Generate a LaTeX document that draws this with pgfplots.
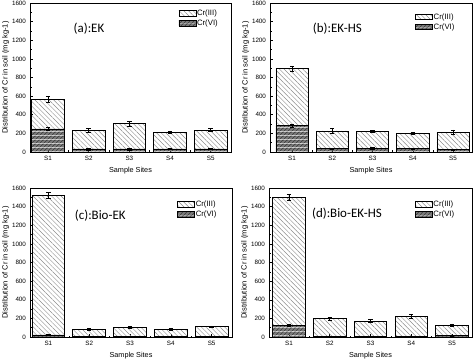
\documentclass[border=0pt]{standalone}
\usepackage{pgfplots}
\pgfplotsset{compat=1.18}
\usepackage{fontspec}
\setmainfont{Liberation Sans}
\newfontfamily\carlito{Carlito}
\usetikzlibrary{patterns.meta}

\pgfdeclarepatterninherentlycolored{darkhatch}{\pgfpoint{0bp}{0bp}}{\pgfpoint{4bp}{4bp}}{\pgfpoint{4bp}{4bp}}{%
  \pgfsetfillcolor{black!52}%
  \pgfpathrectangle{\pgfpoint{0bp}{0bp}}{\pgfpoint{4bp}{4bp}}\pgfusepath{fill}%
  \pgfsetlinewidth{0.6bp}\pgfsetstrokecolor{black!78}%
  \pgfpathmoveto{\pgfpoint{-0.5bp}{-0.5bp}}\pgfpathlineto{\pgfpoint{4.5bp}{4.5bp}}\pgfusepath{stroke}%
}

\pgfplotstableread{
x cr6 e6 cr3 e3
1 248 15 317 30
2 33 10 203 20
3 33 12 270 25
4 33 8 178 12
5 33 8 203 18
}\dataA
\pgfplotstableread{
x cr6 e6 cr3 e3
1 285 15 611 30
2 35 10 191 25
3 40 12 183 10
4 35 8 167 10
5 25 8 187 25
}\dataB
\pgfplotstableread{
x cr6 e6 cr3 e3
1 22 8 1500 35
2 3 3 79 8
3 3 3 103 10
4 3 3 82 8
5 3 3 107 10
}\dataC
\pgfplotstableread{
x cr6 e6 cr3 e3
1 124 12 1376 35
2 5 3 191 12
3 5 3 166 15
4 5 3 215 20
5 18 5 110 12
}\dataD

\tikzset{ttl/.style={anchor=west, font=\carlito\fontsize{13}{14}\selectfont}}
\pgfplotsset{
  panel/.style={
    scale only axis, width=201bp, height=149bp,
    ybar stacked, bar width=0.8,
    ymin=0, ymax=1600, ytick={0,200,...,1600}, minor y tick num=1,
    xtick={1,2,3,4,5}, xticklabels={S1,S2,S3,S4,S5}, minor x tick num=1,
    tick align=inside, xtick pos=bottom, ytick pos=left,
    major tick length=3bp, minor tick length=1.5bp,
    axis line style={line width=0.8bp}, tick style={line width=0.5bp, black},
    tick label style={font=\fontsize{6.3}{7}\selectfont},
    /pgf/number format/assume math mode=true,
    /pgf/number format/1000 sep={},
    xticklabel style={yshift=-0.5bp},
    yticklabel style={xshift=-0.5bp},
    ylabel={Distribution of Cr in soil (mg kg-1)},
    ylabel style={font=\fontsize{7.6}{8}\selectfont, yshift=-4bp},
    xlabel={Sample Sites},
    xlabel style={font=\fontsize{7.3}{8}\selectfont, yshift=0bp},
    legend style={draw=none, fill=none, inner sep=0pt, outer sep=0pt,
      font=\fontsize{7.8}{8}\selectfont, row sep=1.2bp,
      legend cell align=left, anchor=north west,
      nodes={inner sep=0.8bp}},
    legend image code/.code={\draw[##1, line width=0.5bp] (0bp,-2.6bp) rectangle (17bp,2.6bp);},
    reverse legend,
    error bars/y dir=both, error bars/y explicit,
    error bars/error bar style={line width=0.5bp, black},
    error bars/error mark options={rotate=90, mark size=2.2bp, line width=0.5bp, black},
  },
  cr3/.style={draw=black, line width=0.7bp, pattern={Lines[angle=-45,distance=3.3bp,line width=0.45bp]}, pattern color=gray!90},
  cr6/.style={draw=black, line width=0.7bp, pattern=darkhatch},
}

\begin{document}
\begin{tikzpicture}
\useasboundingbox (0bp,0bp) rectangle (474bp,359bp);

\begin{axis}[panel, at={(30bp,207bp)}, anchor=south west, xmin=0.557, xmax=5.5,
  legend style={at={(0.74,0.96)}}]
\addplot[cr6] table[x=x, y=cr6, y error=e6] {\dataA};
\addlegendentry{Cr(VI)}
\addplot[cr3] table[x=x, y=cr3, y error=e3] {\dataA};
\addlegendentry{Cr(III)}
\node[ttl] at (rel axis cs:0.2,0.825) {(a):EK};
\end{axis}

\begin{axis}[panel, at={(270bp,207bp)}, anchor=south west, width=202bp, xmin=0.453, xmax=5.47,
  legend style={at={(0.72,0.935)}}]
\addplot[cr6] table[x=x, y=cr6, y error=e6] {\dataB};
\addlegendentry{Cr(VI)}
\addplot[cr3] table[x=x, y=cr3, y error=e3] {\dataB};
\addlegendentry{Cr(III)}
\node[ttl] at (rel axis cs:0.195,0.825) {(b):EK-HS};
\end{axis}

\begin{axis}[panel, at={(30bp,22bp)}, anchor=south west, width=202bp, xmin=0.55, xmax=5.5,
  legend style={at={(0.73,0.92)}}]
\addplot[cr6] table[x=x, y=cr6, y error=e6] {\dataC};
\addlegendentry{Cr(VI)}
\addplot[cr3] table[x=x, y=cr3, y error=e3] {\dataC};
\addlegendentry{Cr(III)}
\node[ttl] at (rel axis cs:0.205,0.815) {(c):Bio-EK};
\end{axis}

\begin{axis}[panel, at={(269bp,22bp)}, anchor=south west, width=203bp, xmin=0.51, xmax=5.49,
  legend style={at={(0.72,0.92)}}]
\addplot[cr6] table[x=x, y=cr6, y error=e6] {\dataD};
\addlegendentry{Cr(VI)}
\addplot[cr3] table[x=x, y=cr3, y error=e3] {\dataD};
\addlegendentry{Cr(III)}
\node[ttl] at (rel axis cs:0.195,0.83) {(d):Bio-EK-HS};
\end{axis}
\end{tikzpicture}
\end{document}
